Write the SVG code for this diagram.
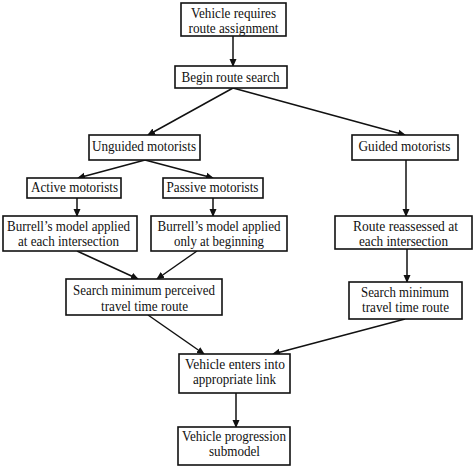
<svg xmlns="http://www.w3.org/2000/svg" width="474" height="476" viewBox="0 0 474 476">
<style>
.b{fill:#fff;stroke:#111;stroke-width:1.6}
.c{stroke:#111;stroke-width:1.5;fill:none;marker-end:url(#a)}
</style>
<defs>
<marker id="a" markerWidth="8" markerHeight="8" refX="7" refY="4" orient="auto" markerUnits="userSpaceOnUse">
<path d="M0,0.5 L8,4 L0,7.5 Z" fill="#111"/>
</marker>
</defs>
<rect width="474" height="476" fill="#fff"/>
<g id="connectors">
<line class="c" x1="233" y1="36" x2="233" y2="66"/>
<line class="c" x1="233" y1="88" x2="148" y2="135"/>
<line class="c" x1="233" y1="88" x2="405" y2="135"/>
<line class="c" x1="145" y1="160" x2="78" y2="178"/>
<line class="c" x1="145" y1="160" x2="213" y2="178"/>
<line class="c" x1="77" y1="198" x2="77" y2="216"/>
<line class="c" x1="213" y1="198" x2="213" y2="216"/>
<line class="c" x1="406" y1="160" x2="406" y2="216"/>
<line class="c" x1="77" y1="251" x2="138" y2="279"/>
<line class="c" x1="197" y1="251" x2="157" y2="279"/>
<line class="c" x1="407" y1="249" x2="407" y2="282"/>
<line class="c" x1="148" y1="315" x2="204" y2="354"/>
<line class="c" x1="405" y1="319" x2="273" y2="354"/>
<line class="c" x1="236" y1="393" x2="236" y2="427"/>
</g>
<g font-family="Liberation Serif, DejaVu Serif, serif" font-size="14" fill="#111" text-anchor="middle">
<g id="n1"><rect class="b" x="181" y="3" width="105" height="33"/><text x="233.5" y="18.3" textLength="85" lengthAdjust="spacingAndGlyphs">Vehicle requires</text><text x="233.5" y="33" textLength="90" lengthAdjust="spacingAndGlyphs">route assignment</text></g>
<g id="n2"><rect class="b" x="175" y="66" width="112" height="22"/><text x="230.5" y="81.7" textLength="98" lengthAdjust="spacingAndGlyphs">Begin route search</text></g>
<g id="n3"><rect class="b" x="89" y="135" width="111" height="25"/><text x="144" y="150.5" textLength="104" lengthAdjust="spacingAndGlyphs">Unguided motorists</text></g>
<g id="n4"><rect class="b" x="352" y="135" width="106" height="25"/><text x="404.5" y="150.5" textLength="92" lengthAdjust="spacingAndGlyphs">Guided motorists</text></g>
<g id="n5"><rect class="b" x="27" y="178" width="94" height="20"/><text x="74.5" y="192" textLength="87" lengthAdjust="spacingAndGlyphs">Active motorists</text></g>
<g id="n6"><rect class="b" x="163" y="178" width="100" height="20"/><text x="212.5" y="192" textLength="92" lengthAdjust="spacingAndGlyphs">Passive motorists</text></g>
<g id="n7"><rect class="b" x="3" y="216" width="134" height="35"/><text x="68.5" y="231" textLength="123" lengthAdjust="spacingAndGlyphs">Burrell’s model applied</text><text x="68.5" y="246" textLength="101" lengthAdjust="spacingAndGlyphs">at each intersection</text></g>
<g id="n8"><rect class="b" x="151" y="216" width="136" height="35"/><text x="219" y="231" textLength="123" lengthAdjust="spacingAndGlyphs">Burrell’s model applied</text><text x="219" y="246" textLength="90" lengthAdjust="spacingAndGlyphs">only at beginning</text></g>
<g id="n9"><rect class="b" x="335" y="216" width="137" height="33"/><text x="405.5" y="230.5" textLength="105" lengthAdjust="spacingAndGlyphs">Route reassessed at</text><text x="403.5" y="245.5" textLength="89" lengthAdjust="spacingAndGlyphs">each intersection</text></g>
<g id="n10"><rect class="b" x="66" y="279" width="156" height="36"/><text x="144" y="295" textLength="142" lengthAdjust="spacingAndGlyphs">Search minimum perceived</text><text x="144.5" y="310.7" textLength="87" lengthAdjust="spacingAndGlyphs">travel time route</text></g>
<g id="n11"><rect class="b" x="349" y="282" width="113" height="37"/><text x="405" y="296.7" textLength="88" lengthAdjust="spacingAndGlyphs">Search minimum</text><text x="405.5" y="311.7" textLength="87" lengthAdjust="spacingAndGlyphs">travel time route</text></g>
<g id="n12"><rect class="b" x="179" y="354" width="111" height="39"/><text x="235" y="369.3" textLength="100" lengthAdjust="spacingAndGlyphs">Vehicle enters into</text><text x="234.5" y="384.3" textLength="83" lengthAdjust="spacingAndGlyphs">appropriate link</text></g>
<g id="n13"><rect class="b" x="178" y="427" width="112" height="38"/><text x="234" y="440.7" textLength="104" lengthAdjust="spacingAndGlyphs">Vehicle progression</text><text x="234.5" y="456" textLength="51" lengthAdjust="spacingAndGlyphs">submodel</text></g>
</g>
</svg>
